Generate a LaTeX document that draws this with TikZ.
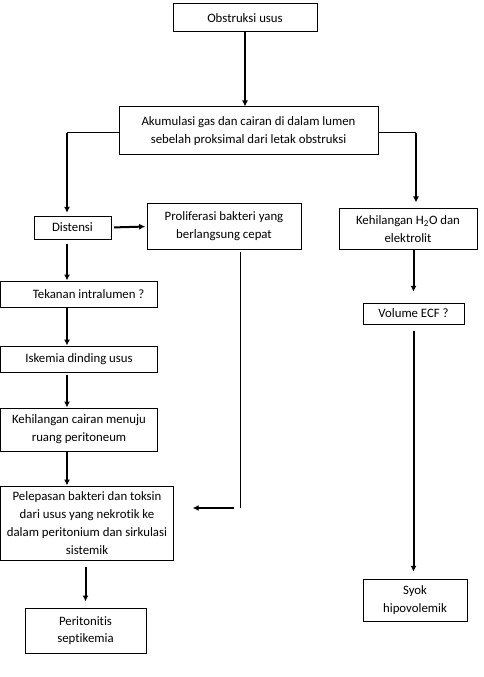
\documentclass[tikz,border=0pt]{standalone}
\usepackage{fontspec}
\setmainfont{Carlito}[Ligatures=NoCommon]
\usetikzlibrary{arrows.meta}

\begin{document}
\begin{tikzpicture}[x=0.75pt,y=-0.75pt,
		box/.style={draw,line width=0.75pt,align=center,inner sep=0pt,
			font=\fontsize{9.6}{13.3}\selectfont},
		sz/.style 2 args={minimum width=#1*0.75pt,minimum height=#2*0.75pt},
		arr/.style={->,line width=1.5pt},
		thin/.style={line width=0.75pt},
		>={Latex[length=4.5pt,width=4.5pt]}]
	\useasboundingbox (0,0) rectangle (484,677);
	%% define boxes
	\node (obs) at (245,18) [box,sz={144}{28}] {Obstruksi usus};
	\node (akum) at (248.5,131) [box,sz={259}{48}] {Akumulasi gas dan cairan di dalam lumen\\sebelah proksimal dari letak obstruksi};
	\node (dist) at (72.5,227.5) [box,sz={77}{23}] {Distensi};
	\node (prol) at (224,226.5) [box,sz={154}{45}] {Proliferasi bakteri yang\\berlangsung cepat};
	\node (keh) at (408,229) [box,sz={138}{40}] {Kehilangan H\textsubscript{2}O dan\\elektrolit};
	\node (tek) at (79,294) [box,sz={157}{26}] {\hspace*{1.5em}Tekanan intralumen ?};
	\node (isk) at (79,359) [box,sz={157}{26}] {Iskemia dinding usus};
	\node (cair) at (79,429.5) [box,sz={157}{43}] {Kehilangan cairan menuju\\ruang peritoneum};
	\node (pel) at (87,523) [box,sz={173}{74}] {Pelepasan bakteri dan toksin\\dari usus yang nekrotik ke\\dalam peritonium dan sirkulasi\\sistemik};
	\node (peri) at (85.5,630.5) [box,sz={121}{45}] {Peritonitis\\septikemia};
	\node (vol) at (413.5,313.5) [box,sz={101}{21}] {Volume ECF ?};
	\node (syok) at (415,600) [box,sz={104}{42}] {Syok\\hipovolemik};
	%% define corners
	\coordinate (kl) at (67,133);
	\coordinate (kr) at (416,133);
	\coordinate (kp) at (240,508);
	%% define arrows
	\draw[arr] (obs.south) -- (akum.north -| obs.south);
	\draw[thin] (akum.west |- kl) -- (kl);
	\draw[arr,shorten >=2pt] (kl) -- (kl |- dist.north);
	\draw[thin] (akum.east |- kr) -- (kr);
	\draw[arr,shorten >=4.5pt] (kr) -- (kr |- keh.north);
	\draw[arr,shorten <=2pt,shorten >=1pt] (dist.east) -- (prol.west);
	\draw[arr,shorten <=3pt] (kl |- dist.south) -- (kl |- tek.north);
	\draw[arr] (kl |- tek.south) -- (kl |- isk.north);
	\draw[arr,shorten <=1.5pt] (kl |- isk.south) -- (kl |- cair.north);
	\draw[arr] (kl |- cair.south) -- (kl |- pel.north);
	\draw[arr,shorten <=4.5pt,shorten >=4.5pt] (pel.south -| peri.north) -- (peri.north);
	\draw[thin,shorten <=2pt] (prol.south -| kp) -- (kp);
	\draw[->,line width=1pt,shorten >=14pt] ([xshift=-4.5pt]kp) -- (pel.east |- kp);
	\draw[arr,shorten >=8pt] (keh.south -| vol.north) -- (vol.north);
	\draw[arr,shorten <=4.5pt,shorten >=5pt] (vol.south) -- (syok.north -| vol.south);
\end{tikzpicture}
\end{document}
